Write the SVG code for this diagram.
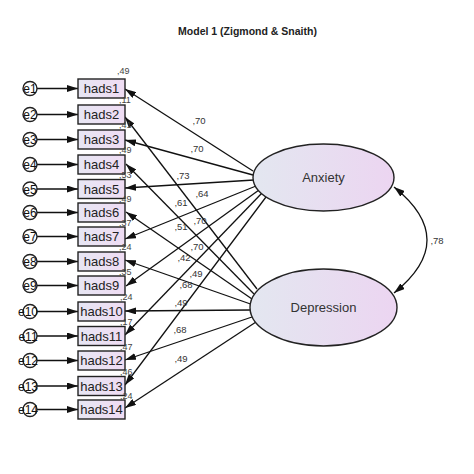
<svg xmlns="http://www.w3.org/2000/svg" width="474" height="474" viewBox="0 0 474 474">
<style>
.t{font-family:"Liberation Sans",Arial,sans-serif;fill:#222}
.box{stroke:#222;stroke-width:1.4;fill:url(#bg)}
.bt{font-family:"Liberation Sans",Arial,sans-serif;font-size:13px;fill:#222;text-anchor:middle}
.et{font-family:"Liberation Sans",Arial,sans-serif;font-size:12px;fill:#111;text-anchor:middle}
.ec{fill:#fff;stroke:#222;stroke-width:1.4}
.ln{stroke:#111;stroke-width:1.3;fill:none;marker-end:url(#ah)}
.lab{font-family:"Liberation Sans",Arial,sans-serif;font-size:9.5px;fill:#333;text-anchor:middle}
.r2{font-family:"Liberation Sans",Arial,sans-serif;font-size:9px;fill:#444}
.ell{stroke:#222;stroke-width:1.4;fill:url(#eg)}
.lt{font-family:"Liberation Sans",Arial,sans-serif;font-size:13px;fill:#333;text-anchor:middle}
</style>
<defs>
<linearGradient id="bg" x1="0" x2="1" y1="0" y2="0"><stop offset="0" stop-color="#e7e6f3"/><stop offset="1" stop-color="#efdcf3"/></linearGradient>
<linearGradient id="eg" x1="0" x2="1" y1="0" y2="0"><stop offset="0" stop-color="#e3e7f0"/><stop offset="1" stop-color="#ecd5f1"/></linearGradient>
<marker id="ah" viewBox="0 0 11 7" markerWidth="11" markerHeight="7" refX="11" refY="3.5" orient="auto" markerUnits="userSpaceOnUse"><path d="M0,0 L11,3.5 L0,7 z" fill="#111"/></marker>
<marker id="ahs" viewBox="0 0 11 7" markerWidth="11" markerHeight="7" refX="0" refY="3.5" orient="auto" markerUnits="userSpaceOnUse"><path d="M11,0 L0,3.5 L11,7 z" fill="#111"/></marker>
</defs>
<rect width="474" height="474" fill="#fff"/>
<text class="t" x="247.5" y="35" font-size="10.5" font-weight="bold" text-anchor="middle">Model 1 (Zigmond &amp; Snaith)</text>

<g id="connectors">
<line class="ln" x1="37" y1="88.5" x2="78" y2="88.5"/>
<line class="ln" x1="37" y1="114.5" x2="78" y2="114.5"/>
<line class="ln" x1="37" y1="139.5" x2="78" y2="139.5"/>
<line class="ln" x1="37" y1="164.5" x2="78" y2="164.5"/>
<line class="ln" x1="37" y1="189" x2="78" y2="189"/>
<line class="ln" x1="37" y1="212.5" x2="78" y2="212.5"/>
<line class="ln" x1="37" y1="236.5" x2="78" y2="236.5"/>
<line class="ln" x1="37" y1="261.5" x2="78" y2="261.5"/>
<line class="ln" x1="37" y1="285.5" x2="78" y2="285.5"/>
<line class="ln" x1="37" y1="311.5" x2="78" y2="311.5"/>
<line class="ln" x1="37" y1="336" x2="78" y2="336"/>
<line class="ln" x1="37" y1="360.5" x2="78" y2="360.5"/>
<line class="ln" x1="37" y1="386" x2="78" y2="386"/>
<line class="ln" x1="37" y1="409.5" x2="78" y2="409.5"/>
<line class="ln" x1="253" y1="171" x2="125" y2="89"/>
<line class="ln" x1="253" y1="175" x2="125" y2="140"/>
<line class="ln" x1="254" y1="180" x2="125" y2="188"/>
<line class="ln" x1="256" y1="186" x2="125" y2="239"/>
<line class="ln" x1="259" y1="190" x2="126" y2="286"/>
<line class="ln" x1="262" y1="193" x2="125" y2="335"/>
<line class="ln" x1="266" y1="197" x2="125" y2="385"/>
<line class="ln" x1="257" y1="289" x2="125" y2="117"/>
<line class="ln" x1="254" y1="294" x2="126" y2="164"/>
<line class="ln" x1="252" y1="299" x2="126" y2="212"/>
<line class="ln" x1="250.5" y1="304" x2="125" y2="260"/>
<line class="ln" x1="250" y1="310" x2="125" y2="311"/>
<line class="ln" x1="252" y1="317" x2="125" y2="360"/>
<line class="ln" x1="256" y1="322" x2="125" y2="408"/>
<path d="M394,187 Q460,240 394,293" fill="none" stroke="#111" stroke-width="1.3" marker-start="url(#ahs)" marker-end="url(#ah)"/>
</g>

<g id="loading-labels">
<text class="lab" x="199" y="124">,70</text>
<text class="lab" x="197" y="152">,70</text>
<text class="lab" x="183" y="179">,73</text>
<text class="lab" x="202" y="197">,64</text>
<text class="lab" x="181" y="206">,61</text>
<text class="lab" x="200" y="224">,70</text>
<text class="lab" x="181" y="230">,51</text>
<text class="lab" x="197" y="250">,70</text>
<text class="lab" x="184" y="261">,42</text>
<text class="lab" x="196" y="277">,49</text>
<text class="lab" x="186" y="288">,68</text>
<text class="lab" x="181" y="306">,49</text>
<text class="lab" x="180" y="333">,68</text>
<text class="lab" x="181" y="362">,49</text>
<text class="lab" x="437" y="244">,78</text>
</g>

<g id="e1"><circle class="ec" cx="30" cy="88.5" r="7"/><text class="et" x="30" y="93">e1</text></g>
<g id="e2"><circle class="ec" cx="30" cy="114.5" r="7"/><text class="et" x="30" y="119">e2</text></g>
<g id="e3"><circle class="ec" cx="30" cy="139.5" r="7"/><text class="et" x="30" y="144">e3</text></g>
<g id="e4"><circle class="ec" cx="30" cy="164.5" r="7"/><text class="et" x="30" y="169">e4</text></g>
<g id="e5"><circle class="ec" cx="30" cy="189" r="7"/><text class="et" x="30" y="193.5">e5</text></g>
<g id="e6"><circle class="ec" cx="30" cy="212.5" r="7"/><text class="et" x="30" y="217">e6</text></g>
<g id="e7"><circle class="ec" cx="30" cy="236.5" r="7"/><text class="et" x="30" y="241">e7</text></g>
<g id="e8"><circle class="ec" cx="30" cy="261.5" r="7"/><text class="et" x="30" y="266">e8</text></g>
<g id="e9"><circle class="ec" cx="30" cy="285.5" r="7"/><text class="et" x="30" y="290">e9</text></g>
<g id="e10"><circle class="ec" cx="30" cy="311.5" r="7"/><text class="et" x="28" y="316">e10</text></g>
<g id="e11"><circle class="ec" cx="30" cy="336" r="7"/><text class="et" x="28" y="340.5">e11</text></g>
<g id="e12"><circle class="ec" cx="30" cy="360.5" r="7"/><text class="et" x="28" y="365">e12</text></g>
<g id="e13"><circle class="ec" cx="30" cy="386" r="7"/><text class="et" x="28" y="390.5">e13</text></g>
<g id="e14"><circle class="ec" cx="30" cy="409.5" r="7"/><text class="et" x="28" y="414">e14</text></g>

<g id="hads1"><rect class="box" x="78" y="79" width="47" height="19"/><text class="bt" x="101.5" y="93">hads1</text><text class="r2" x="117" y="74">,49</text></g>
<g id="hads2"><rect class="box" x="78" y="105" width="47" height="19"/><text class="bt" x="101.5" y="119">hads2</text><text class="r2" x="119" y="103">,11</text></g>
<g id="hads3"><rect class="box" x="78" y="130" width="47" height="19"/><text class="bt" x="101.5" y="144">hads3</text><text class="r2" x="119" y="128">,41</text></g>
<g id="hads4"><rect class="box" x="78" y="155" width="47" height="19"/><text class="bt" x="101.5" y="169">hads4</text><text class="r2" x="119" y="153">,49</text></g>
<g id="hads5"><rect class="box" x="78" y="179.5" width="47" height="19"/><text class="bt" x="101.5" y="193.5">hads5</text><text class="r2" x="119" y="177.5">,53</text></g>
<g id="hads6"><rect class="box" x="78" y="203" width="47" height="19"/><text class="bt" x="101.5" y="217">hads6</text><text class="r2" x="119" y="201.5">,49</text></g>
<g id="hads7"><rect class="box" x="78" y="227" width="47" height="19"/><text class="bt" x="101.5" y="241">hads7</text><text class="r2" x="119" y="225.5">,37</text></g>
<g id="hads8"><rect class="box" x="78" y="252" width="47" height="19"/><text class="bt" x="101.5" y="266">hads8</text><text class="r2" x="119" y="250">,24</text></g>
<g id="hads9"><rect class="box" x="78" y="276" width="47" height="19"/><text class="bt" x="101.5" y="290">hads9</text><text class="r2" x="119" y="274.5">,35</text></g>
<g id="hads10"><rect class="box" x="78" y="302" width="47" height="19"/><text class="bt" x="101.5" y="316">hads10</text><text class="r2" x="120" y="300">,24</text></g>
<g id="hads11"><rect class="box" x="78" y="326.5" width="47" height="19"/><text class="bt" x="101.5" y="340.5">hads11</text><text class="r2" x="120" y="325">,17</text></g>
<g id="hads12"><rect class="box" x="78" y="351" width="47" height="19"/><text class="bt" x="101.5" y="365">hads12</text><text class="r2" x="120" y="349.5">,47</text></g>
<g id="hads13"><rect class="box" x="78" y="376.5" width="47" height="19"/><text class="bt" x="101.5" y="390.5">hads13</text><text class="r2" x="120" y="375">,46</text></g>
<g id="hads14"><rect class="box" x="78" y="400" width="47" height="19"/><text class="bt" x="101.5" y="414">hads14</text><text class="r2" x="120" y="398.5">,24</text></g>

<g id="anxiety"><ellipse class="ell" cx="323.5" cy="177.5" rx="70.5" ry="33.5"/><text class="lt" x="323.5" y="182">Anxiety</text></g>
<g id="depression"><ellipse class="ell" cx="323.5" cy="307.5" rx="73.5" ry="38.5"/><text class="lt" x="323.5" y="312">Depression</text></g>
</svg>
